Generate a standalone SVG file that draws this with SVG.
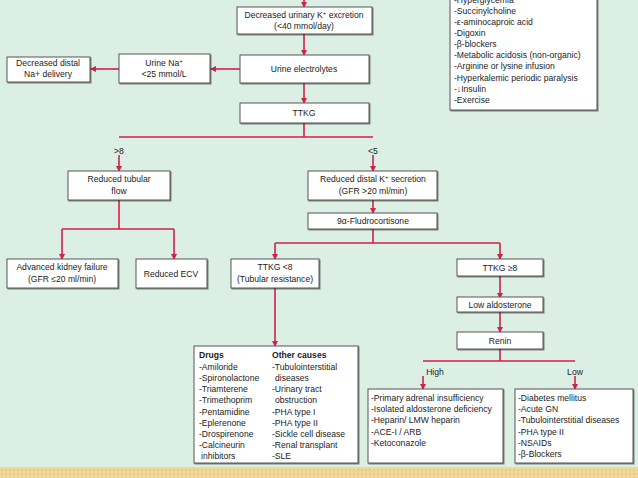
<svg xmlns="http://www.w3.org/2000/svg" width="638" height="478" viewBox="0 0 638 478">
<defs>
<marker id="ah" markerWidth="6" markerHeight="6" refX="5" refY="3" orient="auto" markerUnits="userSpaceOnUse"><path d="M0,0 L6,3 L0,6 z" fill="#d4204a"/></marker>
<pattern id="dots" width="4" height="4" patternUnits="userSpaceOnUse"><rect width="4" height="4" fill="#efd898"/><circle cx="2" cy="2" r="0.9" fill="#e2c37a"/></pattern>
</defs>
<style>
.b{fill:#fff;stroke:#555;stroke-width:1;filter:drop-shadow(1.5px 1.5px 0.5px rgba(0,0,0,0.45))}
text{font-family:"Liberation Sans",Arial,sans-serif;font-size:8.6px;fill:#222}
.c{text-anchor:middle}
.l{fill:none;stroke:#d4204a;stroke-width:1.6}
.a{marker-end:url(#ah)}
</style>
<rect width="638" height="478" fill="#dcefe5"/>
<rect y="467" width="638" height="11" fill="url(#dots)"/>
<g id="connectors">
<path class="l a" d="M304,0 V7"/>
<path class="l a" d="M304,34 V55"/>
<path class="l a" d="M240,69 H211"/>
<path class="l a" d="M119,69 H91"/>
<path class="l a" d="M304,83 V103"/>
<path class="l" d="M304,123 V137 M119,137 H373"/>
<path class="l a" d="M119,155 V171"/>
<path class="l a" d="M373,155 V171"/>
<path class="l a" d="M373,200 V213"/>
<path class="l" d="M119,200 V229 M62,229 H174"/>
<path class="l a" d="M62,229 V259"/>
<path class="l a" d="M174,229 V259"/>
<path class="l" d="M373,229 V243 M275,243 H500"/>
<path class="l a" d="M275,243 V259"/>
<path class="l a" d="M500,243 V259"/>
<path class="l a" d="M275,288 V346"/>
<path class="l a" d="M500,276 V298"/>
<path class="l a" d="M500,312 V332"/>
<path class="l" d="M500,349 V361 M423,361 H575"/>
<path class="l a" d="M423,376 V389"/>
<path class="l a" d="M575,376 V389"/>
<text class="c" x="119" y="154">&gt;8</text>
<text class="c" x="373" y="154">&lt;5</text>
<text class="c" x="435" y="375">High</text>
<text class="c" x="575" y="375">Low</text>
</g>
<g id="n1"><rect class="b" x="237" y="7" width="135" height="27"/><text class="c" x="304" y="18">Decreased urinary K<tspan font-size="6" dy="-3">+</tspan><tspan dy="3"> excretion</tspan></text><text class="c" x="304" y="29">(&lt;40 mmol/day)</text></g>
<g id="n2"><rect class="b" x="240" y="55" width="129" height="28"/><text class="c" x="304" y="72">Urine electrolytes</text></g>
<g id="n3"><rect class="b" x="119" y="54" width="91" height="29"/><text class="c" x="164" y="66">Urine Na<tspan font-size="6" dy="-3">+</tspan></text><text class="c" x="164" y="77">&lt;25 mmol/L</text></g>
<g id="n4"><rect class="b" x="7" y="57" width="83" height="25"/><text class="c" x="48" y="66">Decreased distal</text><text class="c" x="48" y="77">Na+ delivery</text></g>
<g id="n5"><rect class="b" x="240" y="103" width="129" height="20"/><text class="c" x="304" y="116">TTKG</text></g>
<g id="n6"><rect class="b" x="68" y="171" width="102" height="29"/><text class="c" x="119" y="182">Reduced tubular</text><text class="c" x="119" y="194">flow</text></g>
<g id="n7"><rect class="b" x="308" y="171" width="129" height="29"/><text class="c" x="373" y="182">Reduced distal K<tspan font-size="6" dy="-3">+</tspan><tspan dy="3"> secretion</tspan></text><text class="c" x="373" y="194">(GFR &gt;20 ml/min)</text></g>
<g id="n8"><rect class="b" x="308" y="213" width="129" height="16"/><text class="c" x="373" y="224">9α-Fludrocortisone</text></g>
<g id="n9"><rect class="b" x="7" y="259" width="111" height="29"/><text class="c" x="62" y="270">Advanced kidney failure</text><text class="c" x="62" y="282">(GFR ≤20 ml/min)</text></g>
<g id="n10"><rect class="b" x="136" y="259" width="71" height="29"/><text class="c" x="171" y="277">Reduced ECV</text></g>
<g id="n11"><rect class="b" x="231" y="259" width="88" height="29"/><text class="c" x="275" y="270">TTKG &lt;8</text><text class="c" x="275" y="282">(Tubular resistance)</text></g>
<g id="n12"><rect class="b" x="457" y="259" width="86" height="17"/><text class="c" x="500" y="271">TTKG ≥8</text></g>
<g id="n13"><rect class="b" x="457" y="297" width="86" height="15"/><text class="c" x="500" y="308">Low aldosterone</text></g>
<g id="n14"><rect class="b" x="457" y="332" width="86" height="17"/><text class="c" x="500" y="344">Renin</text></g>
<g id="n15"><rect class="b" x="194" y="346" width="164" height="117"/>
<text x="199" y="358" font-weight="bold">Drugs</text>
<text x="199" y="370">-Amiloride</text><text x="199" y="381">-Spironolactone</text><text x="199" y="392">-Triamterene</text><text x="199" y="403">-Trimethoprim</text><text x="199" y="415">-Pentamidine</text><text x="199" y="426">-Eplerenone</text><text x="199" y="437">-Drospirenone</text><text x="199" y="448">-Calcineurin</text><text x="201" y="459">inhibitors</text>
<text x="272" y="358" font-weight="bold">Other causes</text>
<text x="272" y="370">-Tubulointerstitial</text><text x="275" y="381">diseases</text><text x="272" y="392">-Urinary tract</text><text x="275" y="403">obstruction</text><text x="272" y="415">-PHA type I</text><text x="272" y="426">-PHA type II</text><text x="272" y="437">-Sickle cell disease</text><text x="272" y="448">-Renal transplant</text><text x="272" y="459">-SLE</text></g>
<g id="n16"><rect class="b" x="368" y="389" width="135" height="74"/>
<text x="371" y="401">-Primary adrenal insufficiency</text><text x="371" y="412">-Isolated aldosterone deficiency</text><text x="371" y="423">-Heparin/ LMW heparin</text><text x="371" y="435">-ACE-I / ARB</text><text x="371" y="446">-Ketoconazole</text></g>
<g id="n17"><rect class="b" x="515" y="389" width="118" height="74"/>
<text x="518" y="401">-Diabetes mellitus</text><text x="518" y="412">-Acute GN</text><text x="518" y="423">-Tubulointerstitial diseases</text><text x="518" y="435">-PHA type II</text><text x="518" y="446">-NSAIDs</text><text x="518" y="457">-β-Blockers</text></g>
<g id="n18"><rect class="b" x="450" y="-5" width="147" height="115"/>
<text x="454" y="3">-Hyperglycemia</text><text x="454" y="14">-Succinylcholine</text><text x="454" y="25">-ε-aminocaproic acid</text><text x="454" y="36">-Digoxin</text><text x="454" y="47">-β-blockers</text><text x="454" y="58">-Metabolic acidosis (non-organic)</text><text x="454" y="69">-Arginine or lysine infusion</text><text x="454" y="81">-Hyperkalemic periodic paralysis</text><text x="454" y="92">-↓Insulin</text><text x="454" y="103">-Exercise</text></g>
</svg>
